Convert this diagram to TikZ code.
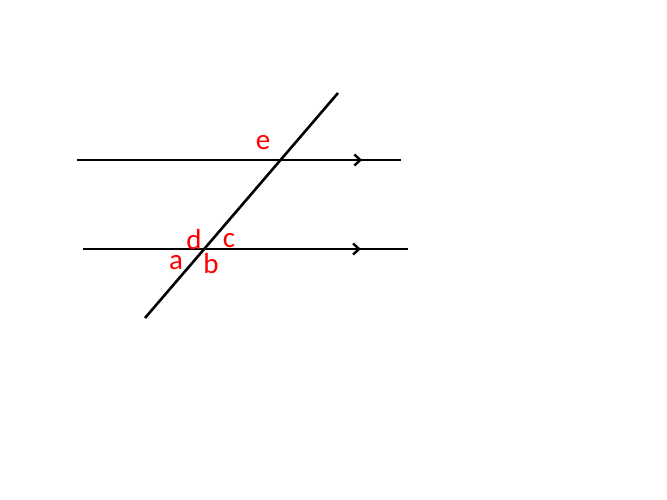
\documentclass[tikz,border=0pt]{standalone}
\usepackage{fontspec}
\setmainfont{Carlito}
\usetikzlibrary{decorations.markings,arrows.meta}
\begin{document}
\begin{tikzpicture}[x=1pt,y=-1pt,
  ln/.style={line width=2.6pt,black},
  midarrow/.style={postaction={decorate},decoration={markings,mark=at position #1 with {\arrow{Straight Barb[length=6pt,width=11pt,line width=2.4pt]}}}},
  lbl/.style={text=red,font=\fontsize{29}{31}\selectfont,inner sep=0pt}]
\useasboundingbox (0,0) rectangle (667,500);
\coordinate (t1) at (77,160);
\coordinate (t2) at (401,160);
\coordinate (b1) at (83,249);
\coordinate (b2) at (408,249);
\coordinate (s1) at (145,318);
\coordinate (s2) at (338,93);
\draw[ln,midarrow=0.88] (t1) -- (t2);
\draw[ln,midarrow=0.855] (b1) -- (b2);
\draw[ln] (s1) -- (s2);
\node[lbl] (e) at (263,143) {e};
\node[lbl] (d) at (194,240) {d};
\node[lbl] (c) at (229,241) {c};
\node[lbl] (a) at (176,263) {a};
\node[lbl] (b) at (211,264) {b};
\end{tikzpicture}
\end{document}
